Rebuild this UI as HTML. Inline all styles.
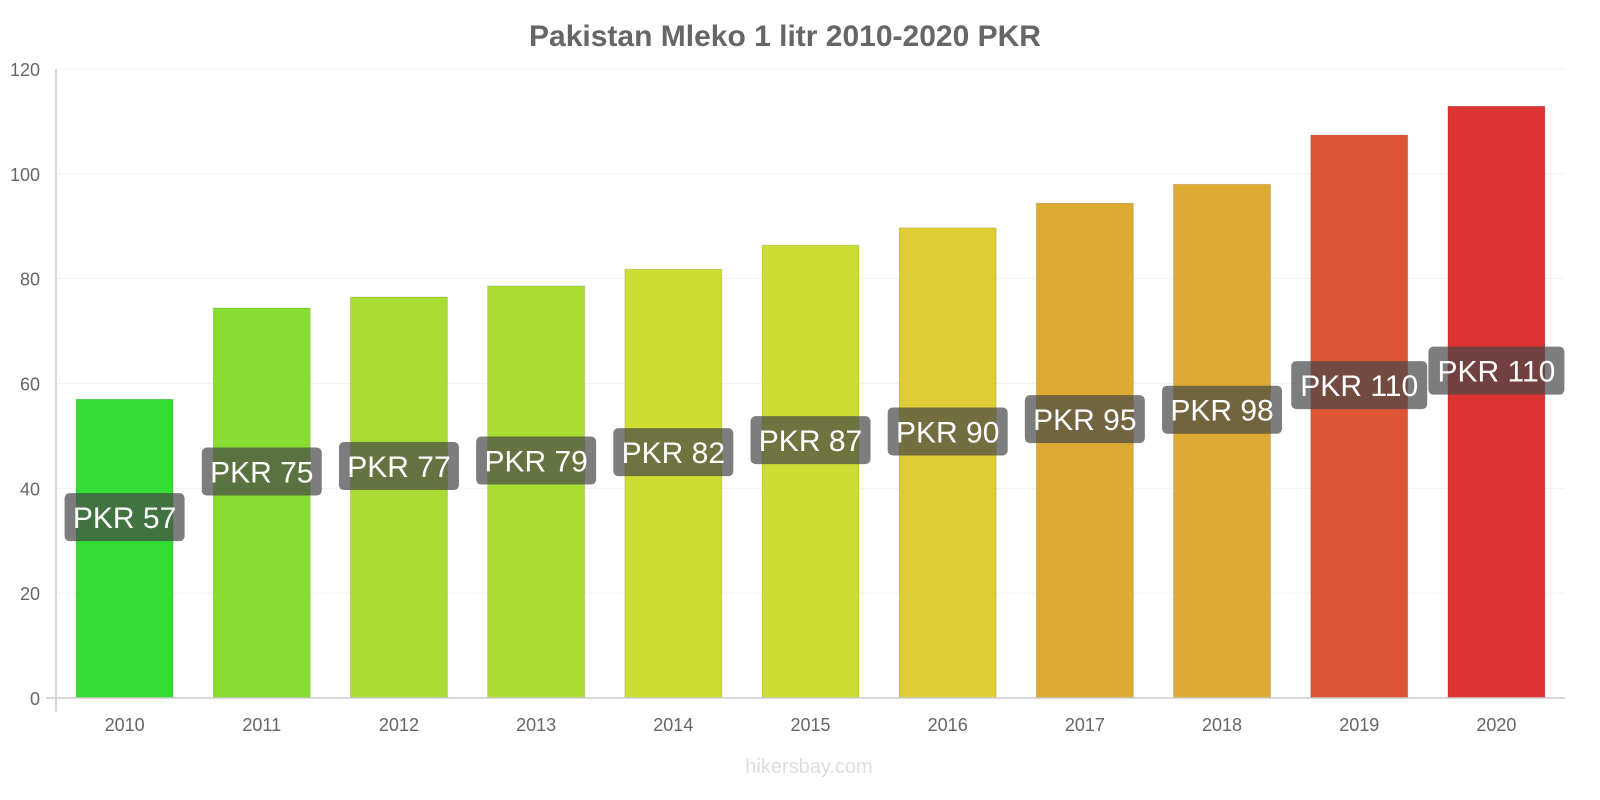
<!DOCTYPE html>
<html><head><meta charset="utf-8"><style>
html,body{margin:0;padding:0;background:#fff;font-family:"Liberation Sans",sans-serif;overflow:hidden;width:1600px;height:800px}
svg{display:block}
</style></head><body>
<svg id="chart" width="1600" height="800" xmlns="http://www.w3.org/2000/svg">
<text x="785" y="46" text-anchor="middle" font-size="30" font-weight="bold" fill="#666">Pakistan Mleko 1 litr 2010-2020 PKR</text>
<g id="grid"></g><g id="bars"></g><g id="labels"></g>
<line x1="56" y1="69" x2="56" y2="712" stroke="#ccc" stroke-width="1.5"/>
<line x1="46" y1="698" x2="1565" y2="698" stroke="#ccc" stroke-width="1.5"/>
<text x="809" y="773" text-anchor="middle" font-size="20" fill="#ddd">hikersbay.com</text>
</svg>
<script>
const categories=["2010","2011","2012","2013","2014","2015","2016","2017","2018","2019","2020"];
const values=[57,74.4,76.5,78.6,81.8,86.4,89.7,94.4,98,107.4,112.9];
const labels=["PKR 57","PKR 75","PKR 77","PKR 79","PKR 82","PKR 87","PKR 90","PKR 95","PKR 98","PKR 110","PKR 110"];
const colors=["#33dd33","#88dd33","#aadd33","#aadd33","#ccdd33","#ccdd33","#ddcc33","#ddaa33","#ddaa33","#dd5533","#dd3333"];
const yTicks=[0,20,40,60,80,100,120];
const NS="http://www.w3.org/2000/svg";
const x0=56,x1=1565,y0=698,y1=69,ymax=120;
const band=(x1-x0)/categories.length;
const y=v=>y0-(v/ymax)*(y0-y1);
const xc=i=>x0+band*(i+0.5);
function mk(t,a,p){const e=document.createElementNS(NS,t);for(const k in a)e.setAttribute(k,a[k]);p.appendChild(e);return e;}
const g=document.getElementById('grid'),b=document.getElementById('bars'),l=document.getElementById('labels');
yTicks.forEach(t=>{
  if(t>0){const ln=mk('line',{x1:x0,x2:x1,y1:y(t),y2:y(t),stroke:'#f3f3f3'},g);
  
  }
  const tx=mk('text',{x:40,y:y(t)+7,'text-anchor':'end','font-size':18,fill:'#666'},g);tx.textContent=t;
  
  
});
categories.forEach((c,i)=>{
  const r=mk('rect',{x:xc(i)-48.5,y:y(values[i]),width:97,height:y0-y(values[i]),fill:colors[i],stroke:'rgba(0,0,0,0.12)'},b);
  
  
  const tx=mk('text',{x:xc(i),y:731,'text-anchor':'middle','font-size':18,fill:'#666'},b);tx.textContent=c;
  
  
  const cy=y(values[i]*0.5+6);
  const w=labels[i].length>6?136:120;
  const bx=mk('rect',{x:xc(i)-w/2,y:cy-24,width:w,height:48,rx:5,fill:'rgba(70,70,70,0.7)'},l);
  
  
  const lt=mk('text',{x:xc(i),y:cy+11,'text-anchor':'middle','font-size':30,fill:'#fff'},l);lt.textContent=labels[i];
  
  
});
</script>
</body></html>
